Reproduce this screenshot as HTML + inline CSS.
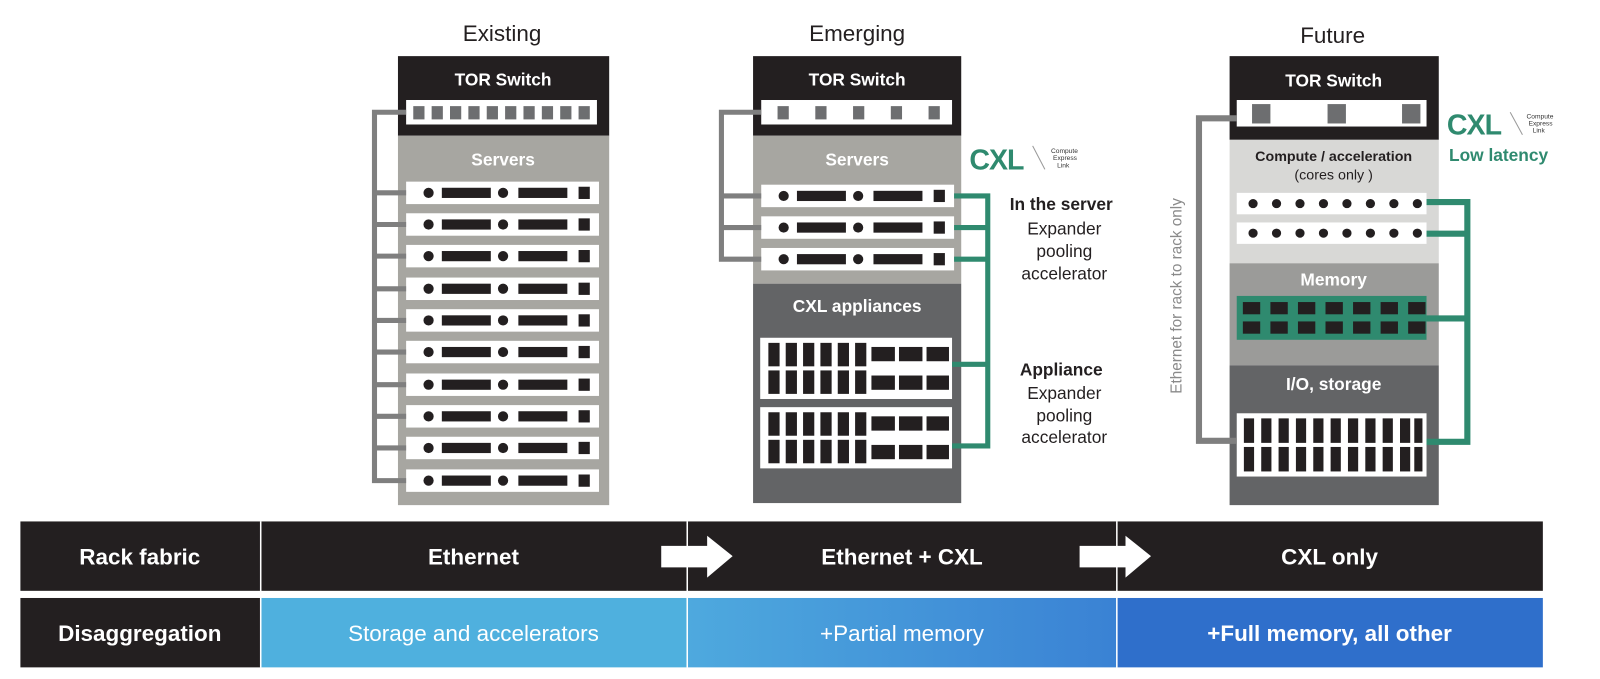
<!DOCTYPE html>
<html><head><meta charset="utf-8"><style>
html,body{margin:0;padding:0;background:#fff;}
svg{display:block;font-family:"Liberation Sans",Arial,sans-serif;}
</style></head><body>
<svg width="1600" height="679" viewBox="0 0 1568 665.4" preserveAspectRatio="none" xmlns="http://www.w3.org/2000/svg">
<defs>
<linearGradient id="g3" x1="0" x2="1"><stop offset="0" stop-color="#4ea9de"/><stop offset="1" stop-color="#3a82d4"/></linearGradient>
<g id="srv"><rect x="0" y="0" width="189" height="22" fill="#fff"/><circle cx="22" cy="11" r="5" fill="#231f20"/><rect x="35" y="6" width="48" height="10" fill="#231f20"/><circle cx="95" cy="11" r="5" fill="#231f20"/><rect x="110" y="6" width="48" height="10" fill="#231f20"/><rect x="169" y="5" width="11" height="12" fill="#231f20"/></g>
<g id="app"><rect x="0" y="0" width="188" height="60" fill="#fff"/>
<g fill="#231f20">
<rect x="8" y="5" width="11" height="23"/><rect x="25" y="5" width="11" height="23"/><rect x="42" y="5" width="11" height="23"/><rect x="59" y="5" width="11" height="23"/><rect x="76" y="5" width="11" height="23"/><rect x="93" y="5" width="11" height="23"/>
<rect x="8" y="32" width="11" height="23"/><rect x="25" y="32" width="11" height="23"/><rect x="42" y="32" width="11" height="23"/><rect x="59" y="32" width="11" height="23"/><rect x="76" y="32" width="11" height="23"/><rect x="93" y="32" width="11" height="23"/>
<rect x="109" y="9" width="23" height="14"/><rect x="136" y="9" width="23" height="14"/><rect x="163" y="9" width="22" height="14"/>
<rect x="109" y="37" width="23" height="14"/><rect x="136" y="37" width="23" height="14"/><rect x="163" y="37" width="22" height="14"/>
</g></g>
<g id="dots" fill="#231f20"><rect width="186" height="21" fill="#fff"/>
<circle cx="16" cy="10.5" r="4.5"/><circle cx="39" cy="10.5" r="4.5"/><circle cx="62" cy="10.5" r="4.5"/><circle cx="85" cy="10.5" r="4.5"/><circle cx="108" cy="10.5" r="4.5"/><circle cx="131" cy="10.5" r="4.5"/><circle cx="154" cy="10.5" r="4.5"/><circle cx="177" cy="10.5" r="4.5"/></g>
</defs>

<!-- titles -->
<g font-size="22" fill="#231f20" text-anchor="middle">
<text x="492" y="40">Existing</text><text x="840" y="40">Emerging</text><text x="1306" y="42">Future</text>
</g>

<!-- Rack 1 -->
<rect x="390" y="55" width="207" height="78" fill="#231f20"/>
<rect x="390" y="133" width="207" height="362" fill="#a7a6a1"/>
<text x="493" y="84" font-size="17" font-weight="bold" fill="#fff" text-anchor="middle">TOR Switch</text>
<rect x="398" y="98" width="187" height="24" fill="#fff"/>
<g fill="#6d6e70"><rect x="405" y="104" width="11" height="13"/><rect x="423" y="104" width="11" height="13"/><rect x="441" y="104" width="11" height="13"/><rect x="459" y="104" width="11" height="13"/><rect x="477" y="104" width="11" height="13"/><rect x="495" y="104" width="11" height="13"/><rect x="513" y="104" width="11" height="13"/><rect x="531" y="104" width="11" height="13"/><rect x="549" y="104" width="11" height="13"/><rect x="567" y="104" width="11" height="13"/></g>
<text x="493" y="162" font-size="17" font-weight="bold" fill="#fff" text-anchor="middle">Servers</text>
<use href="#srv" x="398" y="178"/><use href="#srv" x="398" y="209"/><use href="#srv" x="398" y="240"/><use href="#srv" x="398" y="272"/><use href="#srv" x="398" y="303"/><use href="#srv" x="398" y="334"/><use href="#srv" x="398" y="366"/><use href="#srv" x="398" y="397"/><use href="#srv" x="398" y="428"/><use href="#srv" x="398" y="460"/>
<g stroke="#7f7f7f" stroke-width="5" fill="none">
<path d="M398 110 H367 V471 H398"/>
<path d="M367 189 H398 M367 220 H398 M367 251 H398 M367 283 H398 M367 314 H398 M367 345 H398 M367 377 H398 M367 408 H398 M367 439 H398"/>
</g>

<!-- Rack 2 -->
<rect x="738" y="55" width="204" height="78" fill="#231f20"/>
<rect x="738" y="133" width="204" height="145" fill="#a7a6a1"/>
<rect x="738" y="278" width="204" height="215" fill="#636466"/>
<text x="840" y="84" font-size="17" font-weight="bold" fill="#fff" text-anchor="middle">TOR Switch</text>
<rect x="746" y="98" width="187" height="24" fill="#fff"/>
<g fill="#6d6e70"><rect x="762" y="104" width="11" height="13"/><rect x="799" y="104" width="11" height="13"/><rect x="836" y="104" width="11" height="13"/><rect x="873" y="104" width="11" height="13"/><rect x="910" y="104" width="11" height="13"/></g>
<text x="840" y="162" font-size="17" font-weight="bold" fill="#fff" text-anchor="middle">Servers</text>
<use href="#srv" x="746" y="181"/><use href="#srv" x="746" y="212"/><use href="#srv" x="746" y="243"/>
<text x="840" y="306" font-size="17" font-weight="bold" fill="#fff" text-anchor="middle">CXL appliances</text>
<use href="#app" x="745" y="331"/><use href="#app" x="745" y="399"/>
<g stroke="#7f7f7f" stroke-width="5" fill="none"><path d="M746 110 H707 V254 H746 M707 192 H746 M707 223 H746"/></g>
<g stroke="#2f8a6f" stroke-width="5" fill="none"><path d="M935 192 H968 V437 H933 M935 223 H968 M935 254 H968 M933 357 H968"/></g>
<!-- CXL logo 2 -->
<text x="950" y="166" font-size="28" font-weight="bold" fill="#2f8a6f" letter-spacing="-1">CXL</text>
<line x1="1012" y1="143" x2="1024" y2="166" stroke="#999" stroke-width="1"/>
<g font-size="6.5" fill="#333"><text x="1030" y="150">Compute</text><text x="1032" y="157">Express</text><text x="1036" y="164">Link</text></g>
<g font-size="17" fill="#231f20" text-anchor="middle">
<text x="1040" y="206" font-weight="bold">In the server</text>
<text x="1043" y="230">Expander</text><text x="1043" y="252">pooling</text><text x="1043" y="274">accelerator</text>
<text x="1040" y="368" font-weight="bold">Appliance</text>
<text x="1043" y="391">Expander</text><text x="1043" y="413">pooling</text><text x="1043" y="434">accelerator</text>
</g>

<!-- Rack 3 -->
<rect x="1205" y="55" width="205" height="82" fill="#231f20"/>
<rect x="1205" y="137" width="205" height="121" fill="#d8d8d6"/>
<rect x="1205" y="258" width="205" height="100" fill="#9b9b99"/>
<rect x="1205" y="358" width="205" height="137" fill="#636466"/>
<text x="1307" y="85" font-size="17" font-weight="bold" fill="#fff" text-anchor="middle">TOR Switch</text>
<rect x="1212" y="98" width="186" height="26" fill="#fff"/>
<g fill="#6d6e70"><rect x="1227" y="102" width="18" height="19"/><rect x="1301" y="102" width="18" height="19"/><rect x="1374" y="102" width="18" height="19"/></g>
<text x="1307" y="158" font-size="14" font-weight="bold" fill="#231f20" text-anchor="middle">Compute / acceleration</text>
<text x="1307" y="176" font-size="14" fill="#231f20" text-anchor="middle">(cores  only )</text>
<use href="#dots" x="1212" y="189"/><use href="#dots" x="1212" y="218"/>
<text x="1307" y="280" font-size="17" font-weight="bold" fill="#fff" text-anchor="middle">Memory</text>
<rect x="1212" y="290" width="186" height="43" fill="#2f8a6f"/>
<g fill="#231f20"><rect x="1218" y="296" width="17" height="12"/><rect x="1245" y="296" width="17" height="12"/><rect x="1272" y="296" width="17" height="12"/><rect x="1299" y="296" width="17" height="12"/><rect x="1326" y="296" width="17" height="12"/><rect x="1353" y="296" width="17" height="12"/><rect x="1380" y="296" width="17" height="12"/>
<rect x="1218" y="315" width="17" height="12"/><rect x="1245" y="315" width="17" height="12"/><rect x="1272" y="315" width="17" height="12"/><rect x="1299" y="315" width="17" height="12"/><rect x="1326" y="315" width="17" height="12"/><rect x="1353" y="315" width="17" height="12"/><rect x="1380" y="315" width="17" height="12"/></g>
<text x="1307" y="382" font-size="17" font-weight="bold" fill="#fff" text-anchor="middle">I/O, storage</text>
<rect x="1212" y="405" width="186" height="62" fill="#fff"/>
<g fill="#231f20">
<rect x="1219" y="410" width="10" height="24"/><rect x="1236" y="410" width="10" height="24"/><rect x="1253" y="410" width="10" height="24"/><rect x="1270" y="410" width="10" height="24"/><rect x="1287" y="410" width="10" height="24"/><rect x="1304" y="410" width="10" height="24"/><rect x="1321" y="410" width="10" height="24"/><rect x="1338" y="410" width="10" height="24"/><rect x="1355" y="410" width="10" height="24"/><rect x="1372" y="410" width="10" height="24"/><rect x="1386" y="410" width="8" height="24"/>
<rect x="1219" y="438" width="10" height="24"/><rect x="1236" y="438" width="10" height="24"/><rect x="1253" y="438" width="10" height="24"/><rect x="1270" y="438" width="10" height="24"/><rect x="1287" y="438" width="10" height="24"/><rect x="1304" y="438" width="10" height="24"/><rect x="1321" y="438" width="10" height="24"/><rect x="1338" y="438" width="10" height="24"/><rect x="1355" y="438" width="10" height="24"/><rect x="1372" y="438" width="10" height="24"/><rect x="1386" y="438" width="8" height="24"/>
</g>
<g stroke="#7f7f7f" stroke-width="6" fill="none"><path d="M1212 116 H1175 V432 H1212"/></g>
<text transform="translate(1158 290) rotate(-90)" font-size="15" fill="#8a8a8a" text-anchor="middle">Ethernet for rack to rack only</text>
<g stroke="#2f8a6f" stroke-width="6" fill="none"><path d="M1398 198 H1438 V433 H1398 M1398 229 H1438 M1398 312 H1438"/></g>
<text x="1418" y="132" font-size="28" font-weight="bold" fill="#2f8a6f" letter-spacing="-1">CXL</text>
<line x1="1480" y1="110" x2="1492" y2="132" stroke="#999" stroke-width="1"/>
<g font-size="6.5" fill="#333"><text x="1496" y="116">Compute</text><text x="1498" y="123">Express</text><text x="1502" y="130">Link</text></g>
<text x="1420" y="158" font-size="17" font-weight="bold" fill="#2f8a6f">Low latency</text>

<!-- Table -->
<rect x="20" y="511" width="1492" height="68" fill="#231f20"/>
<rect x="20" y="586" width="235" height="68" fill="#231f20"/>
<rect x="256" y="586" width="417" height="68" fill="#4fb0de"/>
<rect x="674" y="586" width="420" height="68" fill="url(#g3)"/>
<rect x="1095" y="586" width="417" height="68" fill="#2f6fcb"/>
<g stroke="#fff" stroke-width="1.5"><line x1="255.5" y1="511" x2="255.5" y2="654"/><line x1="673.5" y1="511" x2="673.5" y2="654"/><line x1="1094.5" y1="511" x2="1094.5" y2="654"/></g>
<path d="M648 535 H693 V525 L718 545 L693 566 V556 H648 Z" fill="#fff"/>
<path d="M1058 535 H1103 V525 L1128 545 L1103 566 V556 H1058 Z" fill="#fff"/>
<g font-size="22" font-weight="bold" fill="#fff" text-anchor="middle">
<text x="137" y="553">Rack fabric</text><text x="464" y="553">Ethernet</text><text x="884" y="553">Ethernet + CXL</text><text x="1303" y="553">CXL only</text>
<text x="137" y="628">Disaggregation</text>
<text x="1303" y="628">+Full memory, all other</text>
</g>
<g font-size="22" fill="#fff" text-anchor="middle"><text x="464" y="628">Storage and accelerators</text><text x="884" y="628">+Partial memory</text></g>
</svg>
</body></html>
